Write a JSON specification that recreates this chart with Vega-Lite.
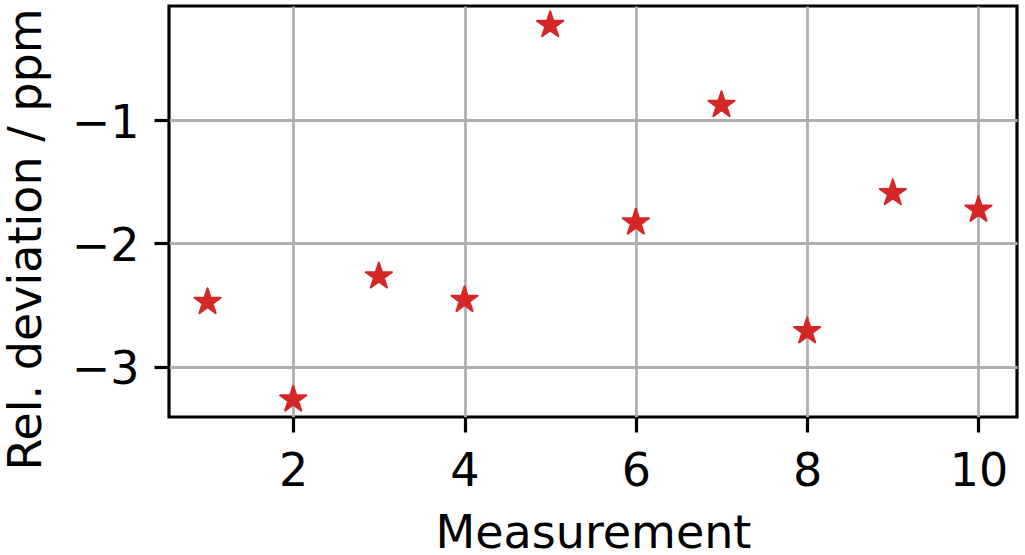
{
  "$schema": "https://vega.github.io/schema/vega-lite/v6.json",
  "width": 848,
  "height": 411,
  "autosize": {"type": "none"},
  "padding": {"left": 169, "top": 6, "right": 8, "bottom": 138},
  "background": "white",
  "config": {
    "view": {"stroke": "black", "strokeWidth": 3.2},
    "font": "DejaVu Sans"
  },
  "data": {
    "values": [
      {"measurement": 1, "deviation": -2.476},
      {"measurement": 2, "deviation": -3.268},
      {"measurement": 3, "deviation": -2.268},
      {"measurement": 4, "deviation": -2.46},
      {"measurement": 5, "deviation": -0.227},
      {"measurement": 6, "deviation": -1.83},
      {"measurement": 7, "deviation": -0.876},
      {"measurement": 8, "deviation": -2.714},
      {"measurement": 9, "deviation": -1.592},
      {"measurement": 10, "deviation": -1.727}
    ]
  },
  "mark": {
    "type": "point",
    "shape": "M0,-1L0.2245,-0.309L0.9511,-0.309L0.3633,0.118L0.5878,0.809L0,0.382L-0.5878,0.809L-0.3633,0.118L-0.9511,-0.309L-0.2245,-0.309Z",
    "filled": true,
    "fill": "#d62728",
    "stroke": "#d62728",
    "strokeWidth": 2,
    "strokeJoin": "round",
    "opacity": 1,
    "size": 760
  },
  "encoding": {
    "x": {
      "field": "measurement",
      "type": "quantitative",
      "scale": {"domain": [0.55, 10.45], "nice": false, "zero": false},
      "axis": {
        "values": [2, 4, 6, 8, 10],
        "grid": true,
        "gridColor": "#b0b0b0",
        "gridWidth": 2.8,
        "domain": false,
        "ticks": true,
        "tickColor": "black",
        "tickWidth": 3.2,
        "tickSize": 15,
        "labelFontSize": 46,
        "labelColor": "black",
        "labelFont": "DejaVu Sans",
        "labelPadding": 17,
        "title": "Measurement",
        "titleFont": "DejaVu Sans",
        "titleFontSize": 46,
        "titleFontWeight": "normal",
        "titleColor": "black",
        "titleBaseline": "alphabetic",
        "titleAlign": "center",
        "titleX": 424,
        "titleY": 130
      }
    },
    "y": {
      "field": "deviation",
      "type": "quantitative",
      "scale": {"domain": [-3.41, -0.072], "nice": false, "zero": false},
      "axis": {
        "values": [-1, -2, -3],
        "grid": true,
        "gridColor": "#b0b0b0",
        "gridWidth": 2.8,
        "domain": false,
        "ticks": true,
        "tickColor": "black",
        "tickWidth": 3.2,
        "tickSize": 15,
        "labelFontSize": 46,
        "labelColor": "black",
        "labelFont": "DejaVu Sans",
        "labelPadding": 15,
        "labelOffset": 3,
        "title": "Rel. deviation / ppm",
        "titleFont": "DejaVu Sans",
        "titleFontSize": 46,
        "titleFontWeight": "normal",
        "titleColor": "black",
        "titleAngle": 270,
        "titleBaseline": "alphabetic",
        "titleAlign": "center",
        "titleX": -129,
        "titleY": 233
      }
    }
  }
}
